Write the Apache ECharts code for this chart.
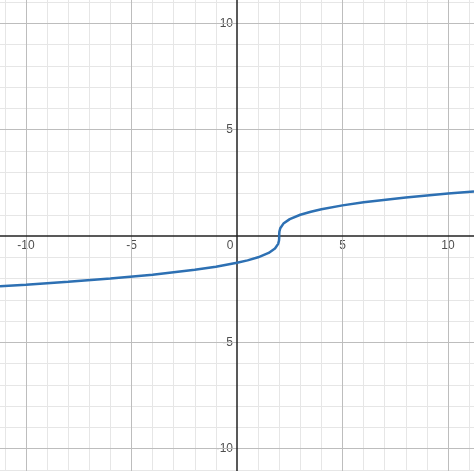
<!DOCTYPE html>
<html><head><meta charset="utf-8">
<script src="https://cdn.jsdelivr.net/npm/echarts@6/dist/echarts.min.js"></script>
<style>html,body{margin:0;padding:0;background:#fff}#c{width:474px;height:471px}</style>
</head><body><div id="c"></div>
<script>
const xs = [-11.23,-10,-8,-6,-4,-2,-1,0,0.5,1,1.5,1.8,1.95,1.99,1.999,2,2.001,2.01,2.05,2.2,2.5,3,3.5,4,5,6,8,10,11.23];
const ys = [-2.366,-2.289,-2.154,-2,-1.817,-1.587,-1.442,-1.26,-1.145,-1,-0.794,-0.585,-0.368,-0.215,-0.1,0,0.1,0.215,0.368,0.585,0.794,1,1.145,1.26,1.442,1.587,1.817,2,2.098];
const minorLines = [-11,-9,-8,-7,-6,-4,-3,-2,-1,1,2,3,4,6,7,8,9,11];
const majorLines = [-10,-5,5,10];
const tickLabels = [-10,-5,5,10];
const XR = [-11.23, 11.23], YR = [-11.05, 11.1];

const lines = (vals, color, w, z) => ({
  type:'line', data:[], silent:true, z:z,
  markLine:{silent:true, symbol:'none', label:{show:false}, animation:false,
    lineStyle:{color:color, width:w, type:'solid'},
    data: vals.flatMap(v => [{xAxis:v},{yAxis:v}])}
});
const lblStyle = {show:true, color:'#222', fontSize:12, fontFamily:'Arial', formatter:p=>p.value[2]};

const chart = echarts.init(document.getElementById('c'));
chart.setOption({
  animation:false,
  grid:{left:0,right:0,top:0,bottom:0, outerBoundsMode:'none', containLabel:false},
  xAxis:{type:'value', min:XR[0], max:XR[1], show:false},
  yAxis:{type:'value', min:YR[0], max:YR[1], show:false},
  series:[
    lines(minorLines,'#e6e6e6',1,1),
    lines(majorLines,'#bdbdbd',1,2),
    lines([0],'#222',1.5,3),
    {type:'scatter', symbolSize:0, silent:true, z:4,
     data: tickLabels.map(v=>[v,0,String(v)]).concat([[0,0,'0']]),
     label:Object.assign({}, lblStyle, {position:'bottom', distance:4, offset:[0,0]}),
     labelLayout:p=> p.text==='0' ? {dx:-7} : {}},
    {type:'scatter', symbolSize:0, silent:true, z:4,
     data: tickLabels.map(v=>[0,v,String(v)]),
     label:Object.assign({}, lblStyle, {position:'left', distance:4})},
    {type:'line', data: xs.map((x,i)=>[x,ys[i]]), showSymbol:false, smooth:false, z:5,
     lineStyle:{color:'#2d70b3', width:2.5}}
  ]
});
</script></body></html>
